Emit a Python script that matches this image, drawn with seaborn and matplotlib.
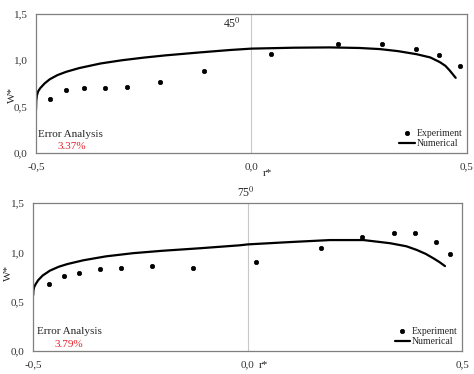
import numpy as np
import pandas as pd
import seaborn as sns
import matplotlib.pyplot as plt
from matplotlib.ticker import FuncFormatter

# 45 degree panel
exp45_r = [-0.468, -0.430, -0.389, -0.341, -0.290, -0.212, -0.110, 0.045, 0.201, 0.303, 0.383, 0.436, 0.485]
exp45_w = [0.587, 0.680, 0.696, 0.696, 0.714, 0.768, 0.880, 1.062, 1.180, 1.170, 1.116, 1.054, 0.935]
num45_r = [-0.500, -0.4995, -0.498, -0.495, -0.490, -0.480, -0.468, -0.450, -0.430, -0.400, -0.350,
           -0.300, -0.250, -0.200, -0.120, -0.050, 0.000, 0.100, 0.182, 0.250, 0.298, 0.340, 0.383,
           0.415, 0.437, 0.450, 0.460, 0.474]
num45_w = [0.467, 0.560, 0.620, 0.665, 0.700, 0.750, 0.795, 0.840, 0.875, 0.915, 0.965,
           1.000, 1.028, 1.052, 1.084, 1.110, 1.125, 1.135, 1.138, 1.132, 1.120, 1.098, 1.065,
           1.030, 0.980, 0.940, 0.890, 0.810]

# 75 degree panel
exp75_r = [-0.464, -0.429, -0.393, -0.344, -0.295, -0.222, -0.127, 0.019, 0.170, 0.267, 0.340, 0.390, 0.439, 0.472]
exp75_w = [0.679, 0.757, 0.790, 0.828, 0.841, 0.858, 0.841, 0.902, 1.044, 1.158, 1.199, 1.199, 1.104, 0.980]
num75_r = [-0.500, -0.4995, -0.498, -0.494, -0.488, -0.478, -0.461, -0.440, -0.420, -0.383, -0.330,
           -0.267, -0.200, -0.111, -0.018, 0.000, 0.100, 0.192, 0.270, 0.332, 0.370, 0.394, 0.415,
           0.433, 0.447, 0.460]
num75_w = [0.567, 0.610, 0.645, 0.680, 0.720, 0.765, 0.815, 0.855, 0.882, 0.920, 0.960,
           0.992, 1.016, 1.042, 1.072, 1.081, 1.105, 1.125, 1.125, 1.093, 1.062, 1.025, 0.985,
           0.940, 0.902, 0.861]

panels = [
    dict(er=exp45_r, ew=exp45_w, nr=num45_r, nw=num45_w, angle="45", err="3.37%"),
    dict(er=exp75_r, ew=exp75_w, nr=num75_r, nw=num75_w, angle="75", err="3.79%"),
]

sns.set_style("white")
plt.rcParams['font.family'] = ['Liberation Serif', 'DejaVu Serif']
plt.rcParams['mathtext.fontset'] = 'stix'

fig = plt.figure(figsize=(4.74, 3.74), dpi=100)
ax_pos = [[0.076, 0.591, 0.909, 0.372], [0.070, 0.0615, 0.905, 0.3955]]

comma = FuncFormatter(lambda v, p: f"{v:.1f}".replace(".", ","))

for i, p in enumerate(panels):
    ax = fig.add_axes(ax_pos[i])
    ax.axvline(0, color='#c8c8c8', lw=0.8, zorder=0)
    sns.lineplot(x=p['nr'], y=p['nw'], ax=ax, color='black', lw=1.6, sort=False,
                 label='Numerical', zorder=2)
    sns.scatterplot(x=p['er'], y=p['ew'], ax=ax, color='black', s=10, edgecolor='black',
                    linewidth=0.5, label='Experiment', zorder=3)
    ax.set_xlim(-0.5, 0.5)
    ax.set_ylim(0, 1.5)
    ax.set_xticks([-0.5, 0.0, 0.5])
    ax.set_yticks([0, 0.5, 1.0, 1.5])
    ax.xaxis.set_major_formatter(comma)
    ax.yaxis.set_major_formatter(comma)
    ax.tick_params(length=0, labelsize=8, colors='#333333')
    ax.tick_params(axis='x', pad=7)
    ax.tick_params(axis='y', pad=6)
    for s in ax.spines.values():
        s.set_color('#7f7f7f')
        s.set_linewidth(0.9)
    ax.set_xlabel("r*", fontsize=8)
    ax.set_ylabel("W*", fontsize=8)
    if i == 0:
        ax.xaxis.set_label_coords(0.538, -0.115)
        ax.yaxis.set_label_coords(-0.044, 0.417)
        ax.text(0.455, 0.925, p['angle'] + "$^{0}$", transform=ax.transAxes, fontsize=8.5,
                ha='center', va='center')
        ax.text(0.004, 0.135, "Error Analysis", transform=ax.transAxes, fontsize=8, va='center')
        ax.text(0.050, 0.05, p['err'], transform=ax.transAxes, fontsize=8, color='#e8202a', va='center')
    else:
        ax.xaxis.set_label_coords(0.536, -0.065)
        ax.yaxis.set_label_coords(-0.047, 0.527)
        ax.text(0.495, 1.068, p['angle'] + "$^{0}$", transform=ax.transAxes, fontsize=8.5,
                ha='center', va='center')
        ax.text(0.008, 0.13, "Error Analysis", transform=ax.transAxes, fontsize=8, va='center')
        ax.text(0.050, 0.047, p['err'], transform=ax.transAxes, fontsize=8, color='#e8202a', va='center')
    h, l = ax.get_legend_handles_labels()
    order = [l.index('Experiment'), l.index('Numerical')]
    ax.legend([h[k] for k in order], [l[k] for k in order], loc='lower right', frameon=False,
              fontsize=7, handlelength=1.6, handletextpad=0.15, labelspacing=0.15,
              borderaxespad=0.2, borderpad=0.3, markerscale=1.0)

fig.savefig("out.png", dpi=100)
